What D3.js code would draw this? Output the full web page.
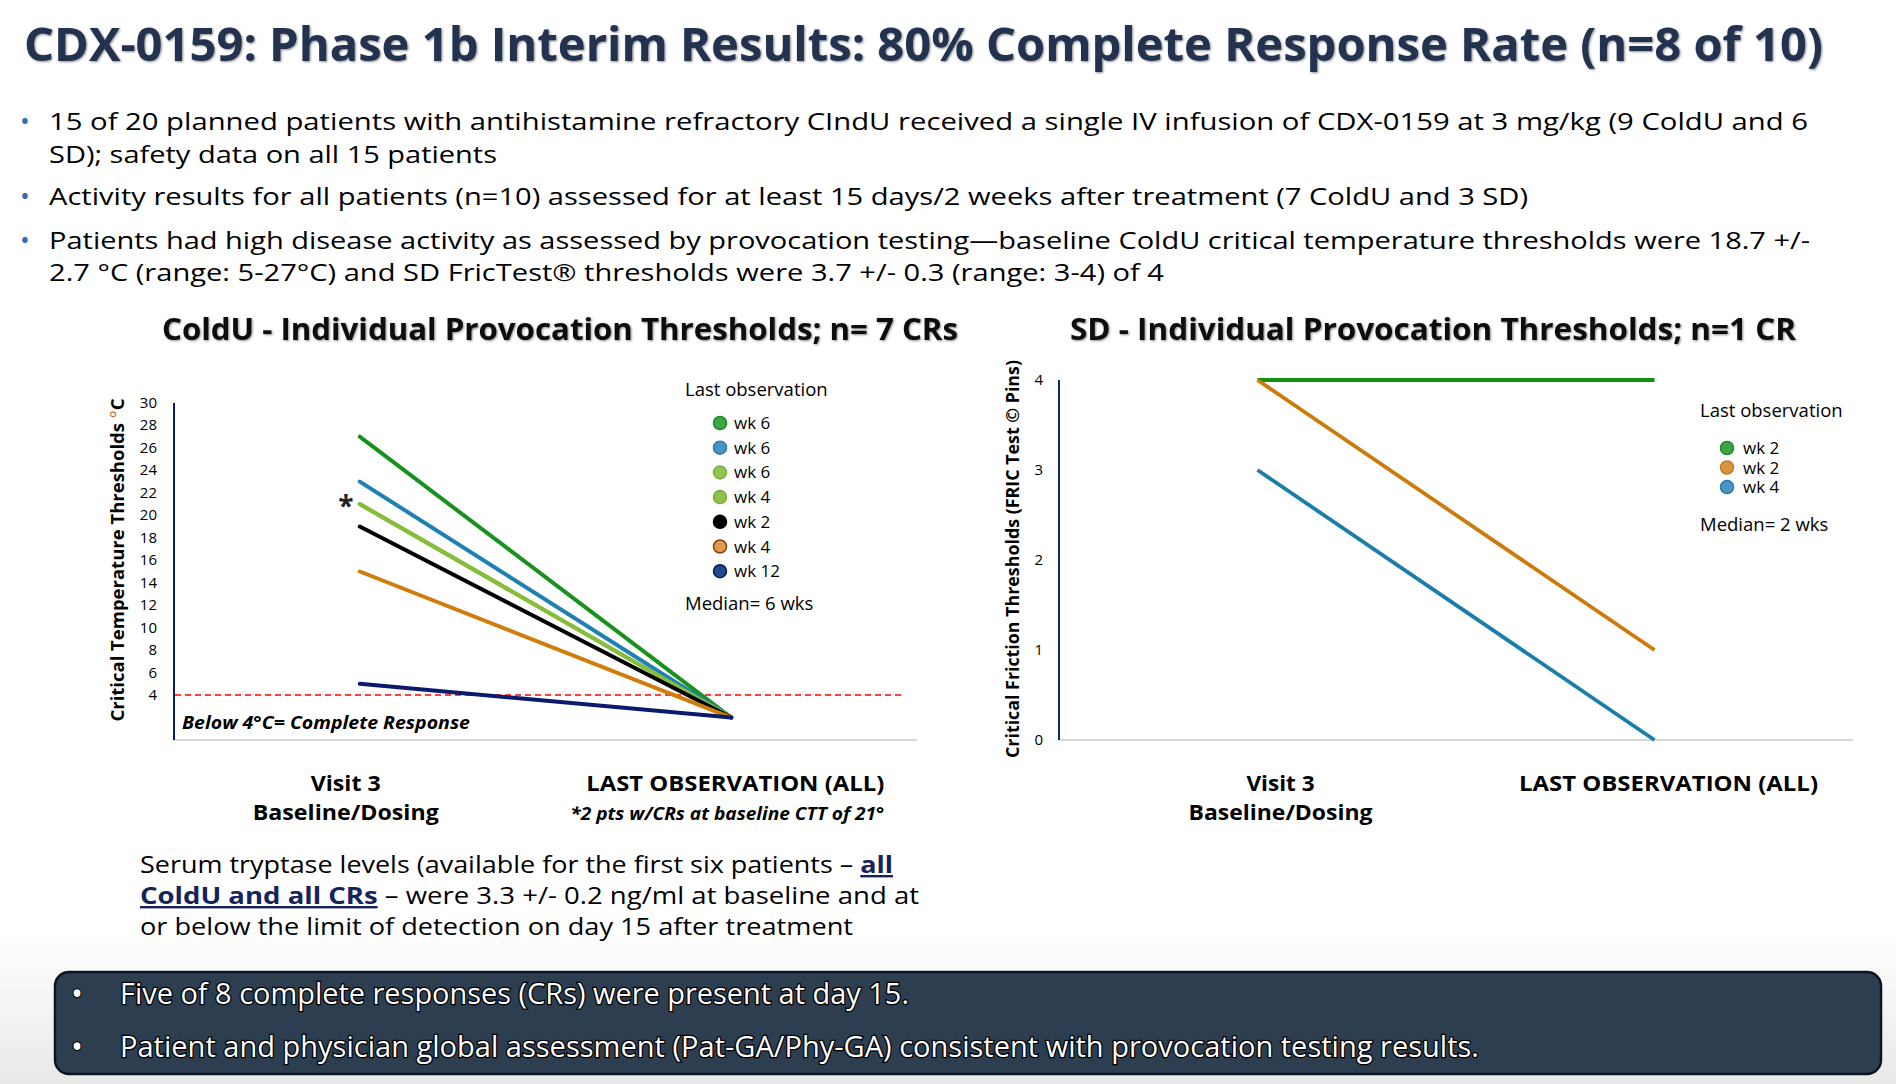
<!doctype html>
<html>
  <head>
    <script src="https://cdn.jsdelivr.net/npm/d3@7/dist/d3.min.js"></script>
    <style>
      body { margin: 0; background: #fff; }
      svg { display: block; font-family: "Open Sans", sans-serif; }
    </style>
  </head>
  <body>
    <svg id="slide" width="1896" height="1084"></svg>
    <script>
      // ---- data ----
      var stages = ["Visit 3", "LAST OBSERVATION (ALL)"];

      var coldLabels = ["wk 6", "wk 6", "wk 6", "wk 4", "wk 2", "wk 4", "wk 12"];
      var coldBaseline = [27, 23, 21, 21, 19, 15, 5];
      var coldLast = [2, 2, 2, 2, 2, 2, 2];
      var coldLine = ["#17921c", "#1f80b3", "#7cb82c", "#86bd3a", "#000000", "#d17d0c", "#0b1a6b"];
      var coldDot = ["#3da544", "#4a93c2", "#93c257", "#8fc24e", "#000000", "#dd9a4c", "#1d4a8c"];
      var coldDotEdge = ["#1f8a26", "#2a7cb0", "#7bb13a", "#78b032", "#000000", "#8a3f10", "#0b1a50"];
      var coldTicks = [4, 6, 8, 10, 12, 14, 16, 18, 20, 22, 24, 26, 28, 30];

      var sdLabels = ["wk 2", "wk 2", "wk 4"];
      var sdBaseline = [4, 4, 3];
      var sdLast = [4, 1, 0];
      var sdLine = ["#13900f", "#cc7a0a", "#1a7eaa"];
      var sdDot = ["#3da544", "#d99440", "#4a93c2"];
      var sdDotEdge = ["#1f8a26", "#c07a20", "#2a7cb0"];
      var sdTicks = [0, 1, 2, 3, 4];

      var bullets = [
        ["15 of 20 planned patients with antihistamine refractory CIndU received a single IV infusion of CDX-0159 at 3 mg/kg (9 ColdU and 6", 1759],
        ["SD); safety data on all 15 patients", 448],
        ["Activity results for all patients (n=10) assessed for at least 15 days/2 weeks after treatment (7 ColdU and 3 SD)", 1479],
        ["Patients had high disease activity as assessed by provocation testing\u2014baseline ColdU critical temperature thresholds were 18.7 +/-", 1761],
        ["2.7 \u00b0C (range: 5-27\u00b0C) and SD FricTest\u00ae thresholds were 3.7 +/- 0.3 (range: 3-4) of 4", 1115]
      ];
      var bulletY = [130, 163, 205, 249, 281];
      var bulletDot = [true, false, true, true, false];

      var boxLines = [
        ["Five of 8 complete responses (CRs) were present at day 15.", 789],
        ["Patient and physician global assessment (Pat-GA/Phy-GA) consistent with provocation testing results.", 1359]
      ];

      var svg = d3.select("#slide");

      function fit(t, w) {
        t.attr("textLength", w).attr("lengthAdjust", "spacingAndGlyphs");
        return t;
      }

      var defs = svg.append("defs");
      var bg = defs.append("linearGradient").attr("id", "bg")
        .attr("x1", 0).attr("y1", 0).attr("x2", 0).attr("y2", 1);
      bg.append("stop").attr("offset", 0).attr("stop-color", "#ffffff");
      bg.append("stop").attr("offset", 1).attr("stop-color", "#e9e9e9");
      var shadow = defs.append("filter").attr("id", "shadow");
      shadow.append("feDropShadow").attr("dx", 1).attr("dy", 1)
        .attr("stdDeviation", 0.8).attr("flood-color", "#000").attr("flood-opacity", 0.45);

      svg.append("rect").attr("x", 0).attr("y", 930).attr("width", 1896).attr("height", 154)
        .attr("fill", "url(#bg)");

      // ---- header ----
      fit(svg.append("text").attr("x", 24).attr("y", 61)
        .attr("font-size", 46).attr("font-weight", 700).attr("fill", "#24334f")
        .attr("filter", "url(#shadow)")
        .text("CDX-0159: Phase 1b Interim Results: 80% Complete Response Rate (n=8 of 10)"), 1799);

      bullets.forEach(function(b, i) {
        if (bulletDot[i]) {
          svg.append("text").attr("x", 20).attr("y", bulletY[i])
            .attr("font-size", 26).attr("fill", "#2f6db5").text("\u2022");
        }
        fit(svg.append("text").attr("x", 49).attr("y", bulletY[i])
          .attr("font-size", 24.5).attr("fill", "#000").text(b[0]), b[1]);
      });

      // ---- ColdU chart ----
      var cx = d3.scaleBand().domain(stages).range([174, 917]);
      var cy = d3.scaleLinear().domain([0, 30]).range([740, 403]);
      var g1 = svg.append("g");

      fit(g1.append("text").attr("x", 162).attr("y", 340)
        .attr("font-size", 30).attr("font-weight", 700).attr("fill", "#111")
        .attr("filter", "url(#shadow)")
        .text("ColdU - Individual Provocation Thresholds; n= 7 CRs"), 796);

      g1.append("line").attr("x1", 174).attr("x2", 917).attr("y1", cy(0)).attr("y2", cy(0))
        .attr("stroke", "#c8c8c8").attr("stroke-width", 1.5);
      g1.append("line").attr("x1", 174).attr("x2", 174).attr("y1", cy(0)).attr("y2", cy(30))
        .attr("stroke", "#0b1a6b").attr("stroke-width", 2);

      g1.selectAll(".ytick").data(coldTicks).enter().append("text")
        .attr("x", 157).attr("y", d => cy(d) + 5)
        .attr("text-anchor", "end").attr("font-size", 15).attr("fill", "#000")
        .text(d => d);

      var yt1 = g1.append("text")
        .attr("transform", "translate(124,560) rotate(-90)")
        .attr("text-anchor", "middle").attr("font-size", 18.5).attr("font-weight", 700).attr("fill", "#000");
      yt1.append("tspan").text("Critical Temperature Thresholds ");
      yt1.append("tspan").attr("fill", "#c0651a").attr("font-weight", 400).text("\u00b0");
      yt1.append("tspan").text("C");

      g1.append("line").attr("x1", 175).attr("x2", 902).attr("y1", cy(4)).attr("y2", cy(4))
        .attr("stroke", "#ff0000").attr("stroke-width", 1.6).attr("stroke-dasharray", "6,4");

      fit(g1.append("text").attr("x", 182).attr("y", 729)
        .attr("font-size", 18).attr("font-weight", 700).attr("font-style", "italic").attr("fill", "#000")
        .text("Below 4\u00b0C= Complete Response"), 288);

      var pts = x => cx(x) + cx.bandwidth() / 2;
      var line = d3.line().x(d => pts(d[0])).y(d => cy(d[1]));
      coldBaseline.forEach(function(v, i) {
        g1.append("path")
          .attr("d", line([[stages[0], v], [stages[1], coldLast[i]]]))
          .attr("fill", "none").attr("stroke", coldLine[i]).attr("stroke-width", 4)
          .attr("stroke-linecap", "round");
      });

      g1.append("text").attr("x", 346).attr("y", cy(21) + 12)
        .attr("text-anchor", "middle").attr("font-size", 28).attr("font-weight", 700).attr("fill", "#222")
        .text("*");

      g1.append("text").attr("x", 685).attr("y", 396).attr("font-size", 18.5).attr("fill", "#000")
        .text("Last observation");
      coldLabels.forEach(function(l, i) {
        var y = 423 + i * 24.7;
        g1.append("circle").attr("cx", 720).attr("cy", y).attr("r", 6.5)
          .attr("fill", coldDot[i]).attr("stroke", coldDotEdge[i]).attr("stroke-width", 1.5);
        g1.append("text").attr("x", 734).attr("y", y + 6).attr("font-size", 17).attr("fill", "#000").text(l);
      });
      g1.append("text").attr("x", 685).attr("y", 610).attr("font-size", 18.5).attr("fill", "#000")
        .text("Median= 6 wks");

      var c1 = pts(stages[0]) - 14, c2 = pts(stages[1]) + 4;
      fit(g1.append("text").attr("x", c1).attr("y", 791).attr("text-anchor", "middle")
        .attr("font-size", 21).attr("font-weight", 700).text(stages[0]), 70);
      fit(g1.append("text").attr("x", c1).attr("y", 820).attr("text-anchor", "middle")
        .attr("font-size", 21).attr("font-weight", 700).text("Baseline/Dosing"), 186);
      fit(g1.append("text").attr("x", c2).attr("y", 791).attr("text-anchor", "middle")
        .attr("font-size", 21).attr("font-weight", 700).text(stages[1]), 298);
      fit(g1.append("text").attr("x", c2 - 8).attr("y", 820).attr("text-anchor", "middle")
        .attr("font-size", 17).attr("font-weight", 700).attr("font-style", "italic")
        .text("*2 pts w/CRs at baseline CTT of 21\u00b0"), 314);

      // serum note
      var s1 = svg.append("text").attr("x", 140).attr("y", 873).attr("font-size", 24).attr("fill", "#000");
      s1.append("tspan").text("Serum tryptase levels (available for the first six patients \u2013 ");
      s1.append("tspan").attr("font-weight", 700).attr("fill", "#15235a")
        .attr("text-decoration", "underline").text("all");
      fit(s1, 753);
      var s2 = svg.append("text").attr("x", 140).attr("y", 904).attr("font-size", 24).attr("fill", "#000");
      s2.append("tspan").attr("font-weight", 700).attr("fill", "#15235a")
        .attr("text-decoration", "underline").text("ColdU and all CRs");
      s2.append("tspan").text(" \u2013 were 3.3 +/- 0.2 ng/ml at baseline and at");
      fit(s2, 779);
      fit(svg.append("text").attr("x", 140).attr("y", 935).attr("font-size", 24).attr("fill", "#000")
        .text("or below the limit of detection on day 15 after treatment"), 713);

      // ---- SD chart ----
      var sx = d3.scaleBand().domain(stages).range([1059, 1853]);
      var sy = d3.scaleLinear().domain([0, 4]).range([740, 380]);
      var g2 = svg.append("g");

      fit(g2.append("text").attr("x", 1070).attr("y", 340)
        .attr("font-size", 30).attr("font-weight", 700).attr("fill", "#111")
        .attr("filter", "url(#shadow)")
        .text("SD - Individual Provocation Thresholds; n=1 CR"), 726);

      g2.append("line").attr("x1", 1059).attr("x2", 1853).attr("y1", sy(0)).attr("y2", sy(0))
        .attr("stroke", "#c8c8c8").attr("stroke-width", 1.5);
      g2.append("line").attr("x1", 1059).attr("x2", 1059).attr("y1", sy(0)).attr("y2", sy(4))
        .attr("stroke", "#0b2a6b").attr("stroke-width", 2);

      g2.selectAll(".ytick").data(sdTicks).enter().append("text")
        .attr("x", 1043).attr("y", d => sy(d) + 5)
        .attr("text-anchor", "end").attr("font-size", 15).attr("fill", "#000")
        .text(d => d);

      fit(g2.append("text")
        .attr("transform", "translate(1019,559) rotate(-90)")
        .attr("text-anchor", "middle").attr("font-size", 17).attr("font-weight", 700).attr("fill", "#000")
        .text("Critical Friction Thresholds (FRIC Test \u00a9 Pins)"), 398);

      var spts = x => sx(x) + sx.bandwidth() / 2;
      var sline = d3.line().x(d => spts(d[0])).y(d => sy(d[1]));
      sdBaseline.forEach(function(v, i) {
        g2.append("path")
          .attr("d", sline([[stages[0], v], [stages[1], sdLast[i]]]))
          .attr("fill", "none").attr("stroke", sdLine[i]).attr("stroke-width", 3.8);
      });

      g2.append("text").attr("x", 1700).attr("y", 417).attr("font-size", 18.5).attr("fill", "#000")
        .text("Last observation");
      sdLabels.forEach(function(l, i) {
        var y = 448 + i * 19.5;
        g2.append("circle").attr("cx", 1727).attr("cy", y).attr("r", 6.5)
          .attr("fill", sdDot[i]).attr("stroke", sdDotEdge[i]).attr("stroke-width", 1.5);
        g2.append("text").attr("x", 1743).attr("y", y + 6).attr("font-size", 17).attr("fill", "#000").text(l);
      });
      g2.append("text").attr("x", 1700).attr("y", 531).attr("font-size", 18.5).attr("fill", "#000")
        .text("Median= 2 wks");

      var d1 = spts(stages[0]) + 23, d2 = spts(stages[1]) + 14;
      fit(g2.append("text").attr("x", d1).attr("y", 791).attr("text-anchor", "middle")
        .attr("font-size", 21).attr("font-weight", 700).text(stages[0]), 68);
      fit(g2.append("text").attr("x", d1).attr("y", 820).attr("text-anchor", "middle")
        .attr("font-size", 21).attr("font-weight", 700).text("Baseline/Dosing"), 184);
      fit(g2.append("text").attr("x", d2).attr("y", 791).attr("text-anchor", "middle")
        .attr("font-size", 21).attr("font-weight", 700).text(stages[1]), 299);

      // ---- bottom box ----
      svg.append("rect").attr("x", 55).attr("y", 972).attr("width", 1826).attr("height", 102)
        .attr("rx", 14).attr("fill", "#2c3e50").attr("stroke", "#0d1520").attr("stroke-width", 2.5);
      boxLines.forEach(function(b, i) {
        var y = 1004 + i * 53;
        svg.append("text").attr("x", 71).attr("y", y + 1).attr("font-size", 32).attr("fill", "#fff")
          .attr("stroke", "#000").attr("stroke-width", 2).attr("paint-order", "stroke").text("\u2022");
        fit(svg.append("text").attr("x", 120).attr("y", y).attr("font-size", 29).attr("fill", "#fff")
          .attr("stroke", "#000").attr("stroke-width", 2.5).attr("paint-order", "stroke")
          .text(b[0]), b[1]);
      });
    </script>
  </body>
</html>
